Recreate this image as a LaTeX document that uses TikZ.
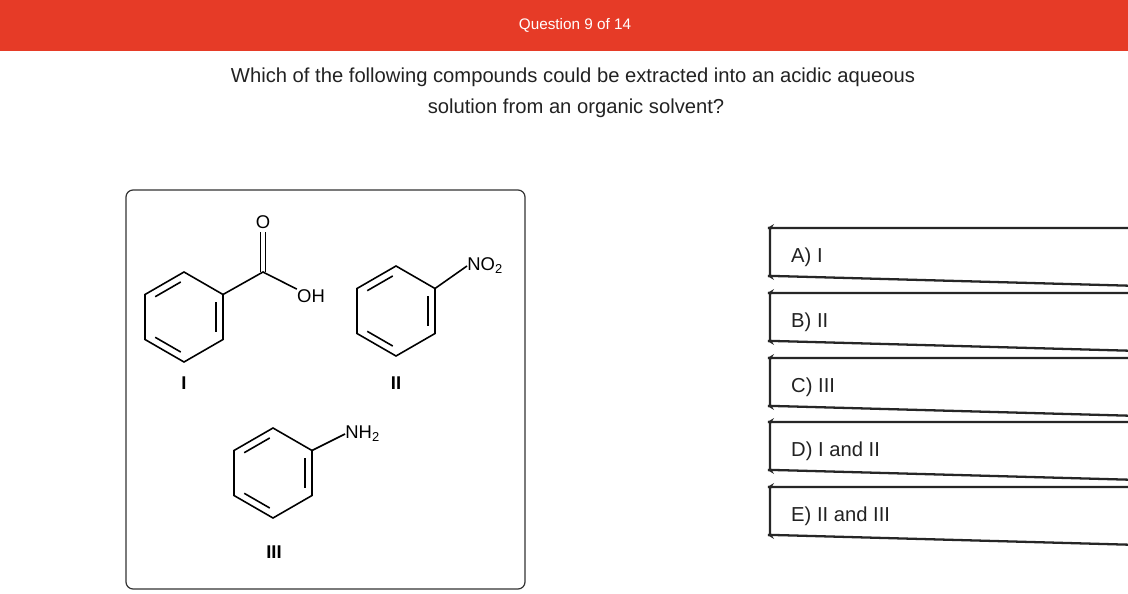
\documentclass[tikz,border=0pt]{standalone}
\usepackage{fontspec}
\setmainfont{Liberation Sans}
\usetikzlibrary{calc}
\definecolor{hdr}{HTML}{E63B27}
\definecolor{txt}{HTML}{222222}
\newcommand\benzring[3]{%
  \coordinate (#1c) at (#2,#3);
  \coordinate (#11) at ($(#1c)+(0,-45)$);
  \coordinate (#12) at ($(#1c)+(39,-22.5)$);
  \coordinate (#13) at ($(#1c)+(39,22.5)$);
  \coordinate (#14) at ($(#1c)+(0,45)$);
  \coordinate (#15) at ($(#1c)+(-39,22.5)$);
  \coordinate (#16) at ($(#1c)+(-39,-22.5)$);
  \draw[bond] (#11)--(#12)--(#13)--(#14)--(#15)--(#16)--cycle;
  \foreach \p/\q in {6/1,2/3,4/5}{
    \coordinate (pp) at ($(#1c)!0.82!(#1\p)$);
    \coordinate (qq) at ($(#1c)!0.82!(#1\q)$);
    \draw[bond] ($(pp)!0.1!(qq)$) -- ($(pp)!0.9!(qq)$);}
}
\begin{document}
\begin{tikzpicture}[x=0.02cm,y=-0.02cm,
  bond/.style={line width=0.9pt,black},
  chem/.style={font=\fontsize{10.5}{12}\selectfont,inner sep=0pt},
  roman/.style={font=\bfseries\fontsize{10.5}{12}\selectfont,inner sep=0pt},
  opt/.style={draw=black!85,line width=1.3pt,rounded corners=4pt},
  optt/.style={font=\fontsize{11.5}{13}\selectfont,anchor=west,text=txt}]
\useasboundingbox (0,0) rectangle (1128,594);
\fill[white] (0,0) rectangle (1128,594);
\fill[hdr] (0,0) rectangle (1128,51);
\node[text=white,font=\fontsize{8.7}{10}\selectfont] (hd) at (575,25) {Question 9 of 14};
\node[text=txt,font=\fontsize{11.5}{13}\selectfont] (q1) at (573,77) {Which of the following compounds could be extracted into an acidic aqueous};
\node[text=txt,font=\fontsize{11.5}{13}\selectfont] (q2) at (576,108) {solution from an organic solvent?};
\draw[black!80,line width=0.7pt,rounded corners=4pt] (126,190) rectangle (525,589);
% molecule I
\benzring{a}{184}{317}
\coordinate (ac) at (263,272);
\node[chem] (ao) at (263,222) {O};
\node[chem] (aoh) at (311,296) {OH};
\draw[bond] (a2) -- (ac) -- (aoh.north west);
\draw[bond] ($(ac)+(-2.5,0)$) -- ($(ao.south)+(-2.5,3)$);
\draw[bond] ($(ac)+(2.5,0)$) -- ($(ao.south)+(2.5,3)$);
\node[roman] (l1) at (184,383) {I};
% molecule II
\benzring{b}{396}{311}
\node[chem,anchor=west] (no2) at (467,266) {NO\textsubscript{2}};
\draw[bond] (b2) -- (no2.west);
\node[roman] (l2) at (396,383) {II};
% molecule III
\benzring{c}{273}{473}
\node[chem,anchor=west] (nh2) at (345,434) {NH\textsubscript{2}};
\draw[bond] (c2) -- (nh2.west);
\node[roman] (l3) at (274,552) {III};
% options
\foreach \y/\t/\n in {228/A) I/oa,293/B) II/ob,358/C) III/oc,422/D) I and II/od,487/E) II and III/oe}{
  \draw[opt] (1140,\y) -- (775,\y) arc[start angle=90,end angle=180,radius=5] -- (770,\y+53) arc[start angle=180,end angle=270,radius=5] -- (1140,\y+58);
  \node[optt] (\n) at (785,\y+29) {\t};
}
\end{tikzpicture}
\end{document}
